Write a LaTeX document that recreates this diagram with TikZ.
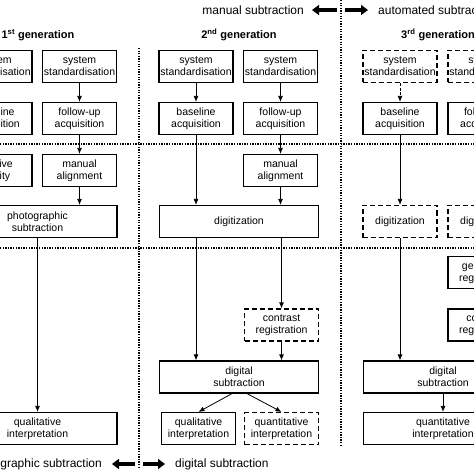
\documentclass[tikz,border=0pt]{standalone}
\usepackage{fontspec}
\setmainfont{Liberation Sans}
\usepackage{tikz}
\usetikzlibrary{arrows.meta}
\tikzset{>={Latex[length=6bp,width=5bp]}}
\tikzset{
  box/.style={draw, line width=1.2bp, minimum width=74bp, minimum height=32bp, inner sep=0pt, align=center, font=\fontsize{10.5bp}{12bp}\selectfont},
  dbox/.style={box, dash pattern=on 5bp off 3bp},
  wbox/.style={box, minimum width=159bp},
  flow/.style={->, line width=0.8bp},
  sep/.style={line width=1.3bp, dash pattern=on 1.3bp off 1.3bp},
  fat/.style={-{Triangle[length=7bp,width=10bp]}, line width=3.5bp},
  title/.style={inner sep=0pt, font=\fontsize{11bp}{13bp}\selectfont\bfseries},
  side/.style={inner sep=0pt, font=\fontsize{12bp}{14bp}\selectfont}
}

\begin{document}
\begin{tikzpicture}[x=1bp, y=-1bp]
            \path[use as bounding box, clip] (0,0) rectangle (474,474);

            % dotted separators
            \draw[sep] (0,144) -- (474,144);
            \draw[sep] (0,248) -- (474,248);
            \draw[sep] (139,48) -- (139,468);
            \draw[sep] (341,0) -- (341,446);

            % manual / automated
            \node[side, anchor=east] (manual) at (304,10) {manual subtraction};
            \node[side, anchor=west] (auto) at (378,10) {automated subtraction};
            \coordinate (topmid) at (341,10);
            \draw[fat] ([xshift=-4bp]topmid) -- ([xshift=8bp]manual.east);
            \draw[fat] ([xshift=4bp]topmid) -- ([xshift=-10bp]auto.west);

            % photographic / digital
            \node[side, anchor=east] (photo) at (102,464) {photographic subtraction};
            \node[side, anchor=west] (digital) at (175,464) {digital subtraction};
            \coordinate (botmid) at (139,464);
            \draw[fat] ([xshift=-4bp]botmid) -- ([xshift=10bp]photo.east);
            \draw[fat] ([xshift=4bp]botmid) -- ([xshift=-10bp]digital.west);

            % 1st generation
            \node[title] (gen1) at (38,35) {1\textsuperscript{st} generation};
            \node[box] (std1l) at (-5,66.5) {system\\standardisation};
            \node[box] (std1r) at (79.5,66.5) {system\\standardisation};
            \node[box] (base1) at (-5,118.5) {baseline\\acquisition};
            \node[box] (fol1) at (79.5,118.5) {follow-up\\acquisition};
            \node[box] (pos1) at (-5,170.5) {positive\\quality};
            \node[box] (mal1) at (79.5,170.5) {manual\\alignment};
            \node[wbox] (sub1) at (37.5,221.5) {photographic\\subtraction};
            \node[wbox] (qual1) at (37.5,428.5) {qualitative\\interpretation};

            \draw[flow] (std1r) -- (fol1);
            \draw[flow] (fol1) -- (mal1);
            \draw[flow] (mal1) -- (sub1.north -| mal1);
            \draw[flow] (sub1) -- (qual1);

            % 2nd generation
            \node[title] (gen2) at (239,35) {2\textsuperscript{nd} generation};
            \node[box] (std2l) at (196,66.5) {system\\standardisation};
            \node[box] (std2r) at (280.5,66.5) {system\\standardisation};
            \node[box] (base2) at (196,118.5) {baseline\\acquisition};
            \node[box] (fol2) at (280.5,118.5) {follow-up\\acquisition};
            \node[box] (mal2) at (280.5,170.5) {manual\\alignment};
            \node[wbox] (dig2) at (239,221.5) {digitization};
            \node[dbox] (con2) at (281.5,325) {contrast\\registration};
            \node[wbox] (dsub2) at (239,377) {digital\\subtraction};
            \node[box] (qual2) at (198.5,428.5) {qualitative\\interpretation};
            \node[dbox] (quan2) at (281.5,428.5) {quantitative\\interpretation};

            \draw[flow] (std2l) -- (base2);
            \draw[flow] (std2r) -- (fol2);
            \draw[flow] (fol2) -- (mal2);
            \draw[flow] (base2) -- (dig2.north -| base2);
            \draw[flow] (mal2) -- (dig2.north -| mal2);
            \draw[flow] (dig2.south -| base2) -- (dsub2.north -| base2);
            \draw[flow] (dig2.south -| con2) -- (con2);
            \draw[flow] (con2) -- (dsub2.north -| con2);
            \draw[flow] ([xshift=-7bp]dsub2.south) -- (qual2.north);
            \draw[flow] ([xshift=8bp]dsub2.south) -- (quan2.north);

            % 3rd generation
            \node[title] (gen3) at (438,35) {3\textsuperscript{rd} generation};
            \node[dbox] (std3l) at (400,66.5) {system\\standardisation};
            \node[dbox] (std3r) at (485,66.5) {system\\standardisation};
            \node[box] (base3) at (400,118.5) {baseline\\acquisition};
            \node[box] (fol3) at (485,118.5) {follow-up\\acquisition};
            \node[dbox] (dig3l) at (400,221.5) {digitization};
            \node[dbox] (dig3r) at (485,221.5) {digitization};
            \node[box] (geo3) at (485,272.5) {geometric\\registration};
            \node[box] (con3) at (485,325) {contrast\\registration};
            \node[wbox] (dsub3) at (443,377) {digital\\subtraction};
            \node[wbox] (quan3) at (443,428.5) {quantitative\\interpretation};

            \draw[flow, dash pattern=on 3bp off 1.5bp] (std3l) -- (base3);
            \draw[flow] (base3) -- (dig3l);
            \draw[flow] (dig3l) -- (dsub3.north -| dig3l);
            \draw[flow] (dsub3) -- (quan3);
        \end{tikzpicture}
\end{document}
